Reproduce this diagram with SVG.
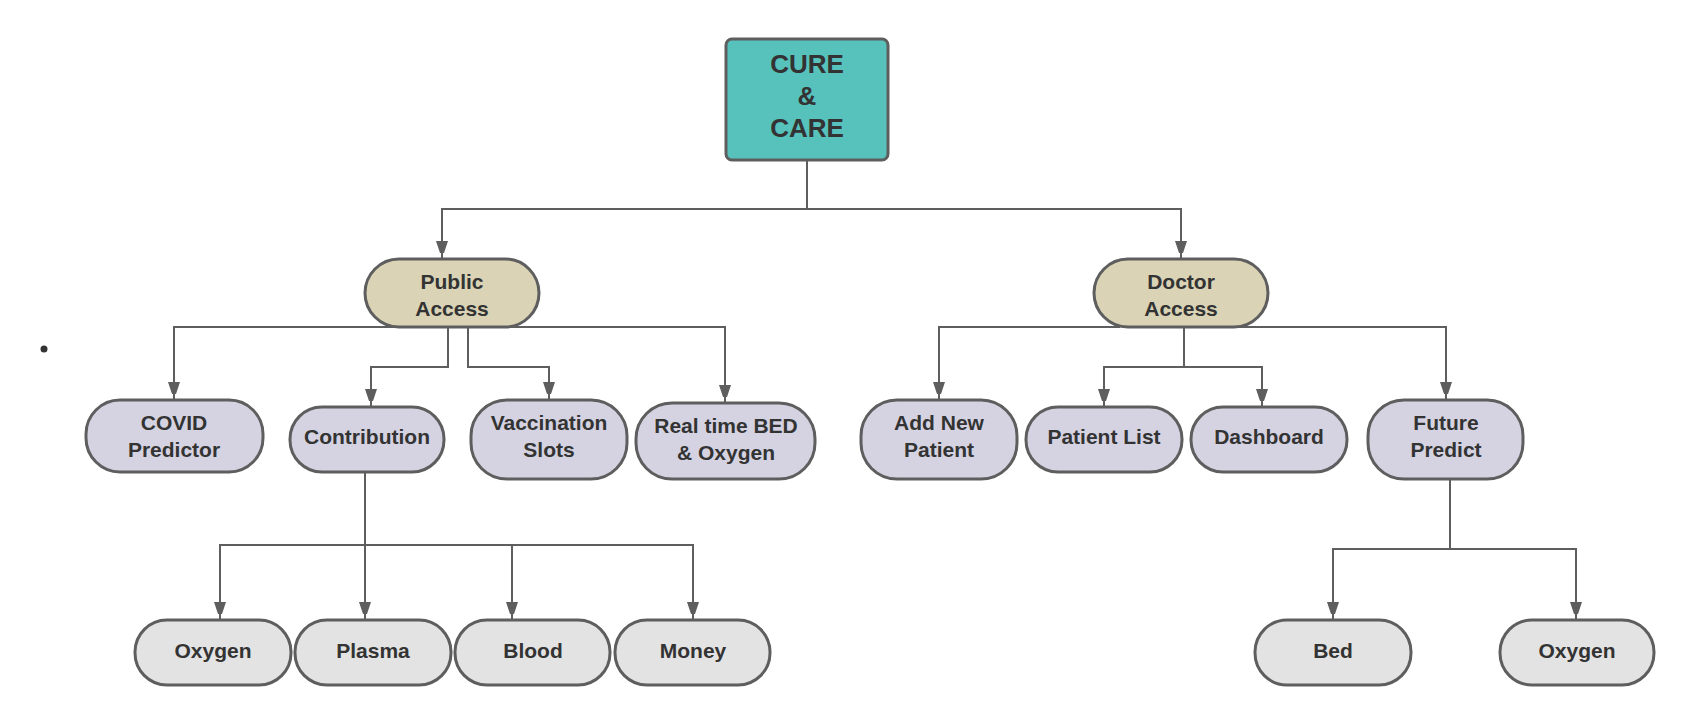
<svg xmlns="http://www.w3.org/2000/svg" width="1694" height="725" viewBox="0 0 1694 725">
<defs>
<marker id="ah" markerWidth="12" markerHeight="16" refX="6" refY="16" orient="auto" markerUnits="userSpaceOnUse" viewBox="0 0 12 16">
<path d="M0,0 L12,0 L6,16 Z" fill="#5e5e5e" transform="rotate(-90 6 8) translate(-2 2)"/>
</marker>
<marker id="a" markerWidth="12" markerHeight="18" refX="18" refY="6" orient="auto" markerUnits="userSpaceOnUse">
<path d="M0,0 L18,6 L0,12 Z" fill="#5e5e5e"/>
</marker>
<style>
.n{stroke:#5e5e5e;stroke-width:3}
.t{font-family:"Liberation Sans",Arial,sans-serif;font-weight:bold;font-size:21px;fill:#333;text-anchor:middle}
.c path{fill:none;stroke:#5e5e5e;stroke-width:2;marker-end:url(#a)}
</style>
</defs>
<rect width="1694" height="725" fill="#fff"/>
<circle cx="44" cy="349" r="3.5" fill="#333"/>
<g class="c">
<path d="M807,160 V209 H442 V259"/>
<path d="M807,209 H1181 V259"/>
<path d="M400,327 H174 V400"/>
<path d="M448,327 V367 H371 V407"/>
<path d="M468,327 V367 H549 V400"/>
<path d="M480,327 H725 V403"/>
<path d="M1120,327 H939 V400"/>
<path d="M1184,327 V367 H1104 V407"/>
<path d="M1184,367 H1262 V407"/>
<path d="M1230,327 H1446 V400"/>
<path d="M365,472 V545 H220 V620"/>
<path d="M365,472 V620"/>
<path d="M365,545 H512 V620"/>
<path d="M365,545 H693 V620"/>
<path d="M1450,479 V549 H1333 V620"/>
<path d="M1450,549 H1576 V620"/>
</g>
<g id="root"><rect class="n" x="726" y="39" width="162" height="121" rx="6" fill="#57c1bc"/>
<text class="t" style="font-size:26px" x="807" y="73">CURE</text><text class="t" style="font-size:26px" x="807" y="105">&amp;</text><text class="t" style="font-size:26px" x="807" y="137">CARE</text></g>
<g id="public"><rect class="n" x="365" y="259" width="174" height="68" rx="34" fill="#dad3b6"/><text class="t" x="452" y="289">Public</text><text class="t" x="452" y="316">Access</text></g>
<g id="doctor"><rect class="n" x="1094" y="259" width="174" height="68" rx="34" fill="#dad3b6"/><text class="t" x="1181" y="289">Doctor</text><text class="t" x="1181" y="316">Access</text></g>
<g id="covid"><rect class="n" x="86" y="400" width="177" height="72" rx="34" fill="#d5d3e2"/><text class="t" x="174" y="430">COVID</text><text class="t" x="174" y="457">Predictor</text></g>
<g id="contribution"><rect class="n" x="290" y="407" width="154" height="65" rx="32" fill="#d5d3e2"/><text class="t" x="367" y="444">Contribution</text></g>
<g id="vaccination"><rect class="n" x="471" y="400" width="156" height="79" rx="36" fill="#d5d3e2"/><text class="t" x="549" y="430">Vaccination</text><text class="t" x="549" y="457">Slots</text></g>
<g id="realtime"><rect class="n" x="636" y="403" width="179" height="76" rx="36" fill="#d5d3e2"/><text class="t" x="726" y="433">Real time BED</text><text class="t" x="726" y="460">&amp; Oxygen</text></g>
<g id="addnew"><rect class="n" x="861" y="400" width="156" height="79" rx="36" fill="#d5d3e2"/><text class="t" x="939" y="430">Add New</text><text class="t" x="939" y="457">Patient</text></g>
<g id="patientlist"><rect class="n" x="1026" y="407" width="156" height="65" rx="32" fill="#d5d3e2"/><text class="t" x="1104" y="444">Patient List</text></g>
<g id="dashboard"><rect class="n" x="1191" y="407" width="156" height="65" rx="32" fill="#d5d3e2"/><text class="t" x="1269" y="444">Dashboard</text></g>
<g id="future"><rect class="n" x="1368" y="400" width="155" height="79" rx="36" fill="#d5d3e2"/><text class="t" x="1446" y="430">Future</text><text class="t" x="1446" y="457">Predict</text></g>
<g id="oxygen1"><rect class="n" x="135" y="620" width="156" height="65" rx="32" fill="#e3e3e3"/><text class="t" x="213" y="658">Oxygen</text></g>
<g id="plasma"><rect class="n" x="295" y="620" width="156" height="65" rx="32" fill="#e3e3e3"/><text class="t" x="373" y="658">Plasma</text></g>
<g id="blood"><rect class="n" x="455" y="620" width="155" height="65" rx="32" fill="#e3e3e3"/><text class="t" x="533" y="658">Blood</text></g>
<g id="money"><rect class="n" x="615" y="620" width="155" height="65" rx="32" fill="#e3e3e3"/><text class="t" x="693" y="658">Money</text></g>
<g id="bed"><rect class="n" x="1255" y="620" width="156" height="65" rx="32" fill="#e3e3e3"/><text class="t" x="1333" y="658">Bed</text></g>
<g id="oxygen2"><rect class="n" x="1500" y="620" width="154" height="65" rx="32" fill="#e3e3e3"/><text class="t" x="1577" y="658">Oxygen</text></g>
</svg>
